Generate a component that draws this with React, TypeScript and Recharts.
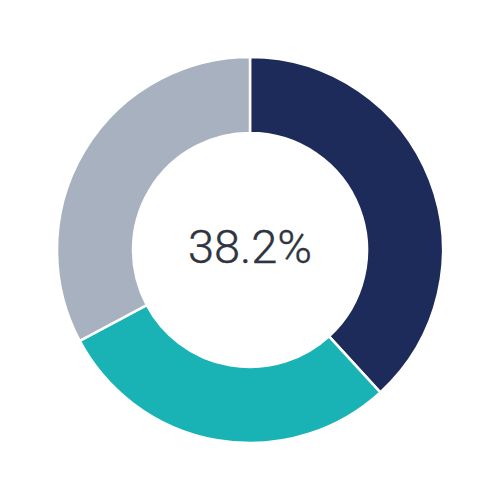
import { PieChart, Pie, Cell } from 'recharts';

const segmentNames = ['Segment A', 'Segment B', 'Segment C'];
const segmentValues = [38.2, 29.0, 32.8];
const segmentColors = ['#1c2b5a', '#1ab3b5', '#a7b1c0'];
const centerLabel = '38.2%';

const data = segmentNames.map((name, i) => ({ name, value: segmentValues[i] }));

export default function App() {
  return (
    <div style={{ position: 'absolute', left: 0, top: 0, width: 500, height: 500, background: '#fff' }}>
      <PieChart width={500} height={500} margin={{ top: 0, right: 0, bottom: 0, left: 0 }}>
        <Pie
          data={data}
          dataKey="value"
          nameKey="name"
          cx={250}
          cy={250}
          innerRadius={117}
          outerRadius={193}
          startAngle={90}
          endAngle={-270}
          stroke="#ffffff"
          strokeWidth={2.5}
          isAnimationActive={false}
        >
          {data.map((d, i) => (
            <Cell key={d.name} fill={segmentColors[i]} />
          ))}
        </Pie>
        <text
          x={250}
          y={246}
          textAnchor="middle"
          dominantBaseline="central"
          fontFamily="Roboto, 'Open Sans', sans-serif"
          fontWeight={300}
          fontSize={47}
          fill="#2f3440"
          stroke="#2f3440"
          strokeWidth={0.4}
        >
          {centerLabel}
        </text>
      </PieChart>
    </div>
  );
}
